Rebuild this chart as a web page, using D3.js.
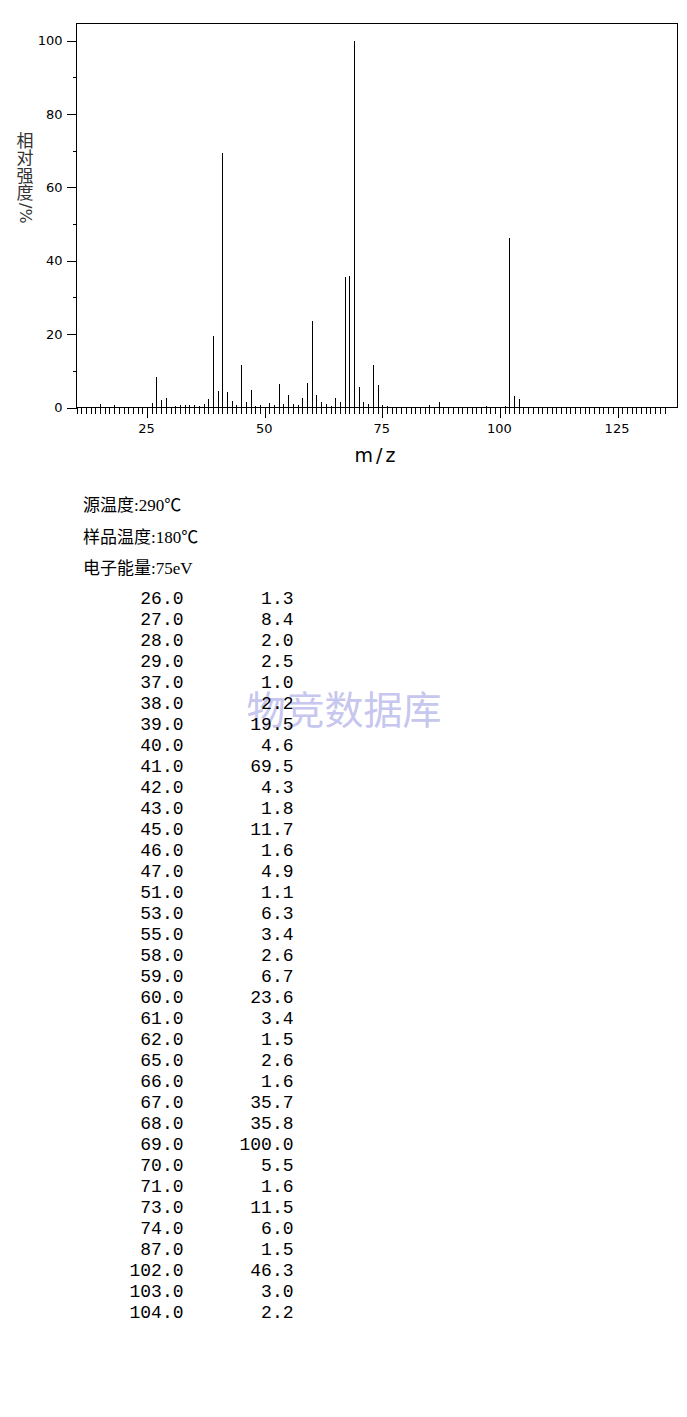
<!DOCTYPE html>
<html>
<head>
<meta charset="utf-8">
<script src="https://cdn.jsdelivr.net/npm/d3@7"></script>
<style>
  html, body { margin: 0; padding: 0; background: #fff; }
  svg { display: block; }
</style>
</head>
<body>
<svg id="chart" width="687" height="1417"></svg>
<script>
// ---- data ----
const peakMz = [15, 18, 26, 27, 28, 29, 31, 32, 33, 34, 35, 36, 37, 38, 39, 40, 41, 42, 43, 44, 45, 46, 47, 48, 49,
  51, 52, 53, 54, 55, 56, 57, 58, 59, 60, 61, 62, 63, 64, 65, 66, 67, 68, 69, 70, 71, 72, 73, 74, 75, 76,
  85, 87, 97, 101, 102, 103, 104];
const peakIntensity = [0.9, 0.6, 1.3, 8.4, 2.0, 2.5, 0.3, 0.6, 0.8, 0.8, 0.7, 0.5, 1.0, 2.2, 19.5, 4.6, 69.5, 4.3, 1.8, 0.6, 11.7, 1.6, 4.9, 0.5, 0.7,
  1.1, 0.8, 6.3, 0.9, 3.4, 0.9, 0.8, 2.6, 6.7, 23.6, 3.4, 1.5, 0.9, 0.5, 2.6, 1.6, 35.7, 35.8, 100.0, 5.5, 1.6, 0.9, 11.5, 6.0, 0.8, 0.5,
  0.6, 1.5, 0.3, 0.5, 46.3, 3.0, 2.2];
const tableMz = [26, 27, 28, 29, 37, 38, 39, 40, 41, 42, 43, 45, 46, 47, 51, 53, 55, 58, 59, 60, 61, 62, 65, 66, 67, 68, 69, 70, 71, 73, 74, 87, 102, 103, 104];
const tableIntensity = [1.3, 8.4, 2.0, 2.5, 1.0, 2.2, 19.5, 4.6, 69.5, 4.3, 1.8, 11.7, 1.6, 4.9, 1.1, 6.3, 3.4, 2.6, 6.7, 23.6, 3.4, 1.5, 2.6, 1.6, 35.7, 35.8, 100.0, 5.5, 1.6, 11.5, 6.0, 1.5, 46.3, 3.0, 2.2];
const xMajorTicks = [25, 50, 75, 100, 125];
const xMinorTicks = d3.range(10, 136);
const yMajorTicks = [0, 20, 40, 60, 80, 100];
const yMinorTicks = [10, 30, 50, 70, 90];
const yTitleChars = ["相", "对", "强", "度"];
const yTitleUnit = "/%";
const xTitle = "m/z";
const infoLines = ["源温度:290℃", "样品温度:180℃", "电子能量:75eV"];
const watermark = "物竞数据库";

// ---- layout ----
const svg = d3.select("#chart");
const L = 76.5, R = 677.5, T = 23.5, B = 407.5;
const x = d3.scaleLinear().domain([10, 137.75]).range([L, R]);
const y = d3.scaleLinear().domain([0, 104.7]).range([B, T]);
const axisFont = "'DejaVu Sans', sans-serif";

// frame
svg.append("rect").attr("x", L).attr("y", T).attr("width", R - L).attr("height", B - T)
  .attr("fill", "none").attr("stroke", "#000").attr("stroke-width", 1).attr("shape-rendering", "crispEdges");

function styleAxis(g) {
  g.select(".domain").remove();
  g.selectAll("line").attr("stroke", "#000").attr("shape-rendering", "crispEdges");
  g.selectAll("text").attr("fill", "#000").style("font-family", axisFont).style("font-size", "13px");
}

// y axis
svg.append("g").attr("transform", `translate(${L},0)`)
  .call(d3.axisLeft(y).tickValues(yMinorTicks).tickSize(4).tickFormat(""))
  .call(styleAxis);
svg.append("g").attr("transform", `translate(${L},0)`)
  .call(d3.axisLeft(y).tickValues(yMajorTicks).tickSize(10).tickPadding(4).tickFormat(d3.format("d")))
  .call(styleAxis);

// x axis
svg.append("g").attr("transform", `translate(0,${B})`)
  .call(d3.axisBottom(x).tickValues(xMinorTicks).tickSize(6).tickFormat(""))
  .call(styleAxis);
svg.append("g").attr("transform", `translate(0,${B})`)
  .call(d3.axisBottom(x).tickValues(xMajorTicks).tickSize(10.5).tickPadding(6).tickFormat(d3.format("d")))
  .call(g => { styleAxis(g); g.selectAll("text").attr("dx", "-1"); });

// peaks
const peaks = peakMz.map((m, i) => ({ m, v: peakIntensity[i] }));
svg.append("g").selectAll("line").data(peaks).join("line")
  .attr("x1", d => Math.round(x(d.m)) + 0.5).attr("x2", d => Math.round(x(d.m)) + 0.5)
  .attr("y1", y(0)).attr("y2", d => y(d.v))
  .attr("stroke", "#000").attr("stroke-width", 1).attr("shape-rendering", "crispEdges");

// axis titles
svg.append("text").attr("x", 376.5).attr("y", 461.5).attr("text-anchor", "middle")
  .style("font-family", axisFont).style("font-size", "19px").style("letter-spacing", "3px")
  .attr("fill", "#000").text(xTitle);

const yt = svg.append("g").attr("fill", "#333")
  .style("font-family", "'Noto Sans CJK SC', sans-serif").style("font-size", "17px");
yt.selectAll("text.c").data(yTitleChars).join("text").attr("class", "c")
  .attr("x", 25).attr("y", (d, i) => 147 + i * 17.4).attr("text-anchor", "middle").text(d => d);
yt.append("text").attr("transform", "translate(25,203) rotate(90)")
  .attr("dominant-baseline", "central").style("font-family", axisFont).style("font-size", "16px").text(yTitleUnit);

// watermark
svg.append("text").attr("x", 344).attr("y", 723.5).attr("text-anchor", "middle")
  .style("font-family", "'Noto Sans CJK SC', sans-serif").style("font-size", "39px")
  .attr("fill", "#c6c6ee").text(watermark);

// info lines
svg.append("g").selectAll("text").data(infoLines).join("text")
  .attr("x", 83).attr("y", (d, i) => 511 + i * 31.5)
  .style("font-family", "'Liberation Serif', 'Noto Sans CJK SC', serif").style("font-size", "17px")
  .attr("fill", "#000").text(d => d);

// table
const rows = tableMz.map((m, i) => ({ m, v: tableIntensity[i] }));
const tg = svg.append("g").style("font-family", "'Liberation Mono', 'Courier New', monospace")
  .style("font-size", "18px").attr("fill", "#000");
tg.selectAll("text.m").data(rows).join("text").attr("class", "m")
  .attr("x", 183.5).attr("y", (d, i) => 603.5 + i * 21).attr("text-anchor", "end")
  .text(d => d3.format(".1f")(d.m));
tg.selectAll("text.v").data(rows).join("text").attr("class", "v")
  .attr("x", 293.5).attr("y", (d, i) => 603.5 + i * 21).attr("text-anchor", "end")
  .text(d => d3.format(".1f")(d.v));
</script>
</body>
</html>
